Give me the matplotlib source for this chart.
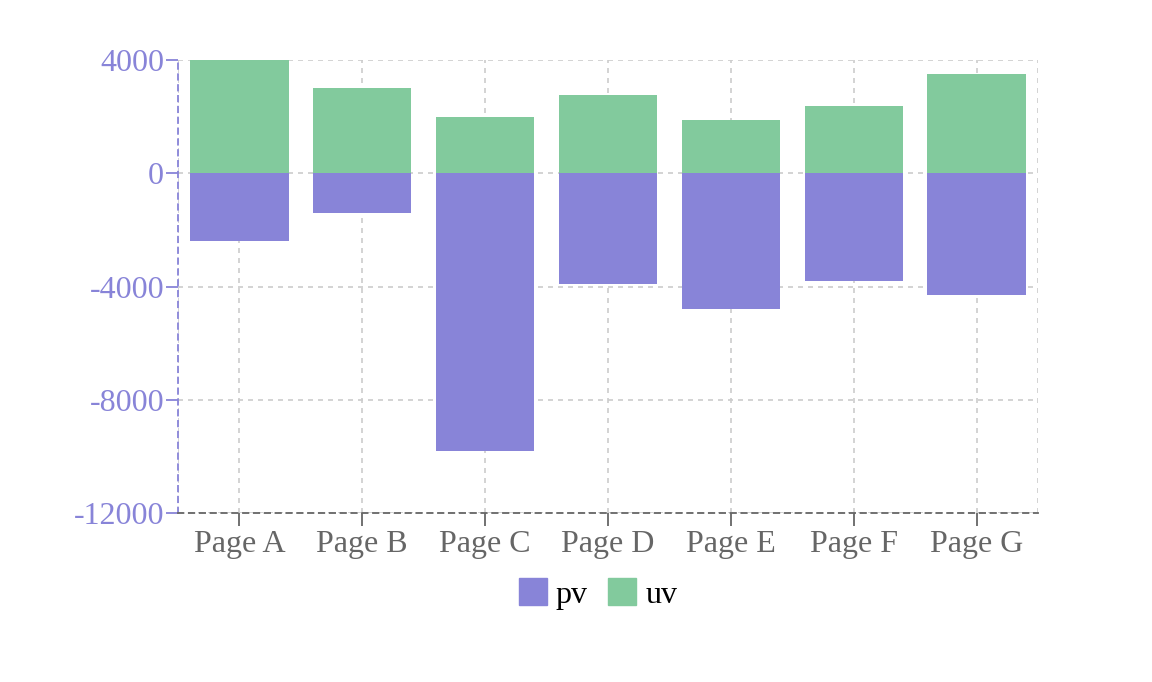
import matplotlib
matplotlib.use("Agg")
import matplotlib.pyplot as plt
from matplotlib.patches import Patch

categories = ["Page A", "Page B", "Page C", "Page D", "Page E", "Page F", "Page G"]
pv = [-2400, -1398, -9800, -3908, -4800, -3800, -4300]
uv = [4000, 3000, 2000, 2780, 1890, 2390, 3490]
yticks = [4000, 0, -4000, -8000, -12000]

PV_C = "#8884d8"
UV_C = "#82ca9d"

plt.rcParams['font.family'] = ['Liberation Serif', 'DejaVu Serif']
FS = 23

fig = plt.figure(figsize=(11.52, 6.82), dpi=100)
ax = fig.add_axes([178/1152, 1-513/682, 860/1152, 453/682])

x = list(range(len(categories)))
ax.bar(x, pv, width=0.8, color=PV_C, zorder=3)
ax.bar(x, uv, width=0.8, color=UV_C, zorder=3)

ax.set_xlim(-0.5, len(categories)-0.5)
ax.set_ylim(-12000, 4000)

# grid
for v in yticks:
    ax.axhline(v, color="#cccccc", lw=1.2, ls=(0, (3, 3)), zorder=1)
for xv in [-0.5] + x + [len(categories)-0.5]:
    ax.axvline(xv, color="#cccccc", lw=1.2, ls=(0, (3, 3)), zorder=1)

for s in ["top", "right"]:
    ax.spines[s].set_visible(False)
ax.spines["left"].set_color(PV_C)
ax.spines["left"].set_linestyle((0, (3, 3)))
ax.spines["left"].set_linewidth(1.3)
ax.spines["bottom"].set_color("#666666")
ax.spines["bottom"].set_linestyle((0, (3, 3)))
ax.spines["bottom"].set_linewidth(1.3)
ax.spines["left"].set_zorder(4)
ax.spines["bottom"].set_zorder(4)

ax.set_xticks(x)
ax.set_xticklabels(categories)
ax.set_yticks(yticks)
ax.set_yticklabels([str(v) for v in yticks])
ax.tick_params(axis="x", colors="#666666", labelsize=FS, length=9, width=1.3, pad=3)
ax.tick_params(axis="y", colors=PV_C, labelsize=FS, length=9, width=1.3, pad=1)

handles = [Patch(color=PV_C, label="pv"), Patch(color=UV_C, label="uv")]
fig.legend(handles=handles, loc="center", bbox_to_anchor=(598/1152, 1-594/682),
           ncol=2, frameon=False, fontsize=FS, handlelength=0.88, handleheight=0.88,
           handletextpad=0.28, columnspacing=0.65)

fig.savefig("out.png", dpi=100)
